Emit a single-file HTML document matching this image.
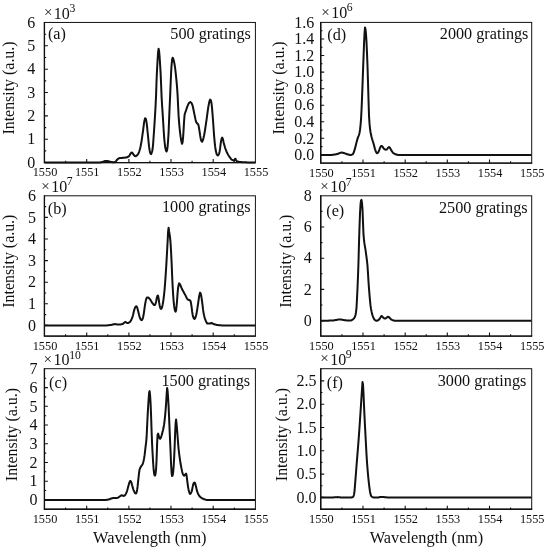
<!DOCTYPE html>
<html><head><meta charset="utf-8"><title>Spectra</title>
<style>
html,body{margin:0;padding:0;background:#fff;}
svg{display:block;}
text{font-family:"Liberation Serif","Times New Roman",serif;fill:#111;}
.yt{font-size:16px;text-anchor:end;}
.xt{font-size:13.5px;text-anchor:middle;}
.lb{font-size:16.2px;}
.ex{font-size:16px;}
.ax{font-size:16.35px;text-anchor:middle;}
.ay{font-size:15.9px;text-anchor:middle;}
</style></head><body>
<svg width="547" height="550" viewBox="0 0 547 550">
<rect width="547" height="550" fill="#fff"/>

<g id="panel-a">
<rect x="44.5" y="22.45" width="210.9" height="140.2" fill="none" stroke="#111" stroke-width="1.0"/>
<path d="M44.40 21.95V162.60H255.90" fill="none" stroke="#111" stroke-width="1.4" stroke-linejoin="miter"/>
<path d="M65.6 162.6v-1.8M86.7 162.6v-3.5M107.8 162.6v-1.8M128.9 162.6v-3.5M149.9 162.6v-1.8M171.0 162.6v-3.5M192.1 162.6v-1.8M213.2 162.6v-3.5M234.3 162.6v-1.8M44.5 150.9h1.7M44.5 139.2h3.4M44.5 127.6h1.7M44.5 115.9h3.4M44.5 104.2h1.7M44.5 92.5h3.4M44.5 80.9h1.7M44.5 69.2h3.4M44.5 57.5h1.7M44.5 45.8h3.4M44.5 34.2h1.7" stroke="#111" stroke-width="1.1" fill="none"/>
<text class="yt" x="35.3" y="167.8">0</text>
<text class="yt" x="35.3" y="144.4">1</text>
<text class="yt" x="35.3" y="121.1">2</text>
<text class="yt" x="35.3" y="97.7">3</text>
<text class="yt" x="35.3" y="74.4">4</text>
<text class="yt" x="35.3" y="51.0">5</text>
<text class="yt" x="35.3" y="27.7">6</text>
<text class="xt" x="45.0" y="176.2" textLength="24.6" lengthAdjust="spacingAndGlyphs">1550</text>
<text class="xt" x="87.2" y="176.2" textLength="24.6" lengthAdjust="spacingAndGlyphs">1551</text>
<text class="xt" x="129.4" y="176.2" textLength="24.6" lengthAdjust="spacingAndGlyphs">1552</text>
<text class="xt" x="171.6" y="176.2" textLength="24.6" lengthAdjust="spacingAndGlyphs">1553</text>
<text class="xt" x="213.8" y="176.2" textLength="24.6" lengthAdjust="spacingAndGlyphs">1554</text>
<text class="xt" x="256.0" y="176.2" textLength="24.6" lengthAdjust="spacingAndGlyphs">1555</text>
<text class="ex" x="43.9" y="18.5"><tspan font-size="15" dy="-1.1">×</tspan><tspan dx="1.5" dy="1.1">10</tspan><tspan font-size="11.7" dx="-0.3" dy="-6.4">3</tspan></text>
<text class="lb" x="47.9" y="38.5">(a)</text>
<text class="lb" text-anchor="end" x="250.8" y="38.5">500 gratings</text>
<text class="ay" transform="translate(14.3,88.0) rotate(-90)">Intensity (a.u.)</text>
<path d="M44.6,162.4 45.1,162.4 45.6,162.4 46.1,162.4 46.6,162.4 47.1,162.4 47.6,162.4 48.1,162.4 48.6,162.4 49.1,162.4 49.6,162.4 50.1,162.4 50.6,162.4 51.1,162.4 51.6,162.4 52.1,162.4 52.6,162.4 53.1,162.4 53.6,162.4 54.1,162.4 54.6,162.4 55.1,162.4 55.6,162.4 56.1,162.4 56.6,162.4 57.1,162.4 57.6,162.4 58.1,162.4 58.6,162.4 59.1,162.4 59.6,162.4 60.1,162.4 60.6,162.4 61.1,162.4 61.6,162.4 62.1,162.4 62.6,162.4 63.1,162.4 63.6,162.4 64.1,162.4 64.6,162.4 65.1,162.4 65.6,162.4 66.1,162.4 66.6,162.4 67.1,162.4 67.6,162.4 68.1,162.4 68.6,162.4 69.1,162.4 69.6,162.4 70.1,162.4 70.6,162.4 71.1,162.4 71.6,162.4 72.1,162.4 72.6,162.4 73.1,162.4 73.6,162.4 74.1,162.4 74.6,162.4 75.1,162.4 75.6,162.4 76.1,162.4 76.6,162.4 77.1,162.4 77.6,162.4 78.1,162.4 78.6,162.4 79.1,162.4 79.6,162.4 80.1,162.4 80.6,162.4 81.1,162.4 81.6,162.4 82.1,162.4 82.6,162.4 83.1,162.4 83.6,162.4 84.1,162.4 84.6,162.4 85.1,162.4 85.6,162.4 86.1,162.4 86.6,162.4 87.1,162.4 87.6,162.4 88.1,162.4 88.6,162.4 89.1,162.4 89.6,162.4 90.1,162.4 90.6,162.4 91.1,162.4 91.6,162.4 92.1,162.4 92.6,162.4 93.1,162.4 93.6,162.4 94.1,162.4 94.6,162.4 95.1,162.4 95.6,162.4 96.1,162.4 96.6,162.4 97.1,162.4 97.6,162.4 98.1,162.4 98.6,162.4 99.1,162.4 99.6,162.4 100.1,162.4 100.6,162.3 101.1,162.3 101.6,162.2 102.1,162.1 102.6,161.9 103.1,161.7 103.6,161.6 104.1,161.4 104.6,161.2 105.1,161.0 105.6,160.9 106.1,160.9 106.6,160.9 107.1,161.0 107.6,161.1 108.1,161.2 108.6,161.3 109.1,161.4 109.6,161.6 110.1,161.7 110.6,161.8 111.1,161.9 111.6,162.0 112.1,162.1 112.6,162.2 113.1,162.2 113.6,162.3 114.1,162.3 114.6,162.2 115.1,161.9 115.6,161.6 116.1,161.1 116.6,160.4 117.1,159.7 117.6,159.2 118.1,158.8 118.6,158.5 119.1,158.3 119.6,158.1 120.1,158.0 120.6,158.0 121.1,157.9 121.6,157.9 122.1,157.9 122.6,157.8 123.1,157.8 123.6,157.7 124.1,157.7 124.6,157.7 125.1,157.6 125.6,157.5 126.1,157.5 126.6,157.4 127.1,157.2 127.6,157.0 128.1,156.8 128.6,156.4 129.1,156.0 129.6,155.4 130.1,154.4 130.6,153.6 131.1,152.9 131.6,152.4 132.1,152.6 132.6,153.2 133.1,153.9 133.6,154.7 134.1,155.3 134.6,155.8 135.1,156.1 135.6,156.2 136.1,156.0 136.6,155.7 137.1,155.4 137.6,154.7 138.1,154.0 138.6,153.0 139.1,151.8 139.6,150.3 140.1,148.5 140.6,146.3 141.1,143.7 141.6,140.8 142.1,137.4 142.6,133.9 143.1,130.4 143.6,126.3 144.1,122.4 144.6,120.0 145.1,118.3 145.6,118.4 146.1,120.1 146.6,122.6 147.1,126.9 147.6,132.0 148.1,136.9 148.6,142.2 149.1,146.9 149.6,150.2 150.1,152.5 150.6,153.9 151.1,154.1 151.6,153.0 152.1,151.5 152.6,149.0 153.1,144.1 153.6,137.0 154.1,129.7 154.6,122.2 155.1,114.1 155.6,105.2 156.1,94.5 156.6,79.3 157.1,68.5 157.6,59.5 158.1,52.0 158.6,48.7 159.1,51.2 159.6,56.8 160.1,64.6 160.6,72.9 161.1,84.2 161.6,97.0 162.1,105.6 162.6,112.9 163.1,120.7 163.6,129.3 164.1,136.8 164.6,142.2 165.1,146.3 165.6,149.1 166.1,150.9 166.6,151.5 167.1,150.2 167.6,146.7 168.1,140.5 168.6,132.3 169.1,119.6 169.6,107.5 170.1,96.6 170.6,84.2 171.1,72.7 171.6,64.6 172.1,59.6 172.6,57.7 173.1,58.3 173.6,59.9 174.1,62.0 174.6,64.7 175.1,67.9 175.6,72.1 176.1,76.8 176.6,81.9 177.1,87.9 177.6,95.4 178.1,105.9 178.6,115.9 179.1,122.6 179.6,128.1 180.1,132.8 180.6,136.7 181.1,140.0 181.6,142.4 182.1,143.8 182.6,142.1 183.1,137.1 183.6,129.6 184.1,120.8 184.6,114.7 185.1,113.0 185.6,111.7 186.1,110.2 186.6,108.6 187.1,107.1 187.6,105.8 188.1,104.7 188.6,103.6 189.1,102.9 189.6,102.5 190.1,102.2 190.6,102.1 191.1,102.6 191.6,103.2 192.1,104.3 192.6,105.7 193.1,107.8 193.6,110.3 194.1,112.8 194.6,115.1 195.1,117.6 195.6,119.9 196.1,121.7 196.6,122.7 197.1,123.3 197.6,123.8 198.1,124.3 198.6,125.6 199.1,128.6 199.6,131.7 200.1,135.2 200.6,138.2 201.1,140.2 201.6,141.4 202.1,141.8 202.6,140.8 203.1,139.4 203.6,137.5 204.1,135.2 204.6,132.6 205.1,129.5 205.6,126.2 206.1,122.9 206.6,119.4 207.1,115.6 207.6,111.8 208.1,108.4 208.6,105.4 209.1,102.7 209.6,100.8 210.1,99.6 210.6,100.0 211.1,101.2 211.6,104.0 212.1,108.6 212.6,115.0 213.1,121.5 213.6,128.7 214.1,135.8 214.6,141.4 215.1,146.2 215.6,149.8 216.1,152.1 216.6,153.9 217.1,154.8 217.6,155.4 218.1,155.3 218.6,154.7 219.1,153.6 219.6,151.7 220.1,148.4 220.6,144.2 221.1,140.9 221.6,138.6 222.1,137.6 222.6,138.2 223.1,139.9 223.6,142.4 224.1,144.3 224.6,146.1 225.1,147.8 225.6,149.2 226.1,150.5 226.6,151.7 227.1,152.8 227.6,153.8 228.1,154.7 228.6,155.5 229.1,156.3 229.6,157.0 230.1,157.7 230.6,158.4 231.1,159.0 231.6,159.5 232.1,159.8 232.6,160.1 233.1,160.3 233.6,160.5 234.1,160.6 234.6,159.9 235.1,158.7 235.6,158.9 236.1,160.1 236.6,161.2 237.1,161.4 237.6,161.5 238.1,161.6 238.6,161.7 239.1,161.9 239.6,161.9 240.1,162.0 240.6,162.1 241.1,162.1 241.6,162.1 242.1,162.2 242.6,162.2 243.1,162.2 243.6,162.2 244.1,162.3 244.6,162.3 245.1,162.3 245.6,162.3 246.1,162.3 246.6,162.3 247.1,162.4 247.6,162.4 248.1,162.4 248.6,162.4 249.1,162.4 249.6,162.4 250.1,162.4 250.6,162.4 251.1,162.4 251.6,162.4 252.1,162.4 252.6,162.4 253.1,162.4 253.6,162.4 254.1,162.4 254.6,162.4 255.1,162.4" fill="none" stroke="#111" stroke-width="2" stroke-linejoin="round"/>
</g>
<g id="panel-b">
<rect x="44.5" y="195.8" width="210.9" height="140.3" fill="none" stroke="#111" stroke-width="1.0"/>
<path d="M44.40 195.30V336.10H255.90" fill="none" stroke="#111" stroke-width="1.4" stroke-linejoin="miter"/>
<path d="M65.6 336.1v-1.8M86.7 336.1v-3.5M107.8 336.1v-1.8M128.9 336.1v-3.5M149.9 336.1v-1.8M171.0 336.1v-3.5M192.1 336.1v-1.8M213.2 336.1v-3.5M234.3 336.1v-1.8M44.5 325.4h3.4M44.5 314.6h1.7M44.5 303.8h3.4M44.5 293.0h1.7M44.5 282.2h3.4M44.5 271.4h1.7M44.5 260.6h3.4M44.5 249.8h1.7M44.5 239.0h3.4M44.5 228.2h1.7M44.5 217.4h3.4M44.5 206.6h1.7" stroke="#111" stroke-width="1.1" fill="none"/>
<text class="yt" x="36.0" y="330.6">0</text>
<text class="yt" x="36.0" y="309.0">1</text>
<text class="yt" x="36.0" y="287.4">2</text>
<text class="yt" x="36.0" y="265.8">3</text>
<text class="yt" x="36.0" y="244.2">4</text>
<text class="yt" x="36.0" y="222.6">5</text>
<text class="yt" x="36.0" y="201.0">6</text>
<text class="xt" x="45.0" y="349.7" textLength="24.6" lengthAdjust="spacingAndGlyphs">1550</text>
<text class="xt" x="87.2" y="349.7" textLength="24.6" lengthAdjust="spacingAndGlyphs">1551</text>
<text class="xt" x="129.4" y="349.7" textLength="24.6" lengthAdjust="spacingAndGlyphs">1552</text>
<text class="xt" x="171.6" y="349.7" textLength="24.6" lengthAdjust="spacingAndGlyphs">1553</text>
<text class="xt" x="213.8" y="349.7" textLength="24.6" lengthAdjust="spacingAndGlyphs">1554</text>
<text class="xt" x="256.0" y="349.7" textLength="24.6" lengthAdjust="spacingAndGlyphs">1555</text>
<text class="ex" x="41.2" y="191.8"><tspan font-size="15" dy="-1.1">×</tspan><tspan dx="1.5" dy="1.1">10</tspan><tspan font-size="11.7" dx="-0.3" dy="-6.4">7</tspan></text>
<text class="lb" x="47.8" y="213.8">(b)</text>
<text class="lb" text-anchor="end" x="250.6" y="212.3">1000 gratings</text>
<text class="ay" transform="translate(14.3,261.2) rotate(-90)">Intensity (a.u.)</text>
<path d="M44.6,325.4 45.1,325.4 45.6,325.4 46.1,325.4 46.6,325.4 47.1,325.4 47.6,325.4 48.1,325.4 48.6,325.4 49.1,325.4 49.6,325.4 50.1,325.4 50.6,325.4 51.1,325.4 51.6,325.4 52.1,325.4 52.6,325.4 53.1,325.4 53.6,325.4 54.1,325.4 54.6,325.4 55.1,325.4 55.6,325.4 56.1,325.4 56.6,325.4 57.1,325.4 57.6,325.4 58.1,325.4 58.6,325.4 59.1,325.4 59.6,325.4 60.1,325.4 60.6,325.4 61.1,325.4 61.6,325.4 62.1,325.4 62.6,325.4 63.1,325.4 63.6,325.4 64.1,325.4 64.6,325.4 65.1,325.4 65.6,325.4 66.1,325.4 66.6,325.4 67.1,325.4 67.6,325.4 68.1,325.4 68.6,325.4 69.1,325.4 69.6,325.4 70.1,325.4 70.6,325.4 71.1,325.4 71.6,325.4 72.1,325.4 72.6,325.4 73.1,325.4 73.6,325.4 74.1,325.4 74.6,325.4 75.1,325.4 75.6,325.4 76.1,325.4 76.6,325.4 77.1,325.4 77.6,325.4 78.1,325.4 78.6,325.4 79.1,325.4 79.6,325.4 80.1,325.4 80.6,325.4 81.1,325.4 81.6,325.4 82.1,325.4 82.6,325.4 83.1,325.4 83.6,325.4 84.1,325.4 84.6,325.4 85.1,325.4 85.6,325.4 86.1,325.4 86.6,325.4 87.1,325.4 87.6,325.4 88.1,325.4 88.6,325.4 89.1,325.4 89.6,325.4 90.1,325.4 90.6,325.4 91.1,325.4 91.6,325.4 92.1,325.4 92.6,325.4 93.1,325.4 93.6,325.4 94.1,325.4 94.6,325.4 95.1,325.4 95.6,325.4 96.1,325.4 96.6,325.4 97.1,325.4 97.6,325.4 98.1,325.4 98.6,325.4 99.1,325.4 99.6,325.4 100.1,325.4 100.6,325.4 101.1,325.4 101.6,325.4 102.1,325.4 102.6,325.4 103.1,325.4 103.6,325.4 104.1,325.4 104.6,325.4 105.1,325.4 105.6,325.4 106.1,325.4 106.6,325.4 107.1,325.4 107.6,325.3 108.1,325.3 108.6,325.3 109.1,325.2 109.6,325.1 110.1,325.1 110.6,325.0 111.1,324.9 111.6,324.8 112.1,324.7 112.6,324.5 113.1,324.4 113.6,324.3 114.1,324.2 114.6,324.1 115.1,324.2 115.6,324.2 116.1,324.3 116.6,324.3 117.1,324.4 117.6,324.5 118.1,324.5 118.6,324.5 119.1,324.5 119.6,324.5 120.1,324.5 120.6,324.4 121.1,324.3 121.6,324.3 122.1,324.1 122.6,324.0 123.1,323.6 123.6,323.2 124.1,322.9 124.6,322.4 125.1,322.1 125.6,322.1 126.1,322.4 126.6,322.7 127.1,322.9 127.6,323.0 128.1,323.0 128.6,322.8 129.1,322.5 129.6,322.2 130.1,321.7 130.6,321.1 131.1,320.3 131.6,319.2 132.1,318.0 132.6,316.6 133.1,314.7 133.6,312.5 134.1,310.4 134.6,308.8 135.1,307.5 135.6,306.7 136.1,306.3 136.6,306.5 137.1,307.3 137.6,309.1 138.1,311.1 138.6,313.1 139.1,315.1 139.6,316.8 140.1,318.2 140.6,319.2 141.1,319.9 141.6,320.2 142.1,319.9 142.6,318.9 143.1,317.2 143.6,314.8 144.1,311.4 144.6,307.6 145.1,304.4 145.6,301.6 146.1,299.4 146.6,298.1 147.1,297.4 147.6,297.4 148.1,297.5 148.6,297.7 149.1,298.2 149.6,298.8 150.1,299.4 150.6,300.1 151.1,301.0 151.6,301.8 152.1,302.6 152.6,303.3 153.1,304.0 153.6,304.5 154.1,305.0 154.6,305.1 155.1,304.7 155.6,303.6 156.1,301.7 156.6,299.0 157.1,296.8 157.6,295.5 158.1,295.9 158.6,298.4 159.1,302.1 159.6,305.2 160.1,307.3 160.6,308.7 161.1,309.0 161.6,308.3 162.1,307.1 162.6,304.9 163.1,302.1 163.6,298.6 164.1,294.4 164.6,289.4 165.1,283.2 165.6,276.1 166.1,268.4 166.6,259.9 167.1,251.0 167.6,241.7 168.1,231.6 168.6,227.7 169.1,231.4 169.6,234.5 170.1,238.0 170.6,243.6 171.1,252.3 171.6,262.4 172.1,274.8 172.6,285.8 173.1,294.0 173.6,300.9 174.1,305.7 174.6,309.1 175.1,311.0 175.6,311.7 176.1,310.1 176.6,306.0 177.1,300.2 177.6,292.9 178.1,287.7 178.6,285.0 179.1,283.4 179.6,283.7 180.1,284.5 180.6,285.6 181.1,287.0 181.6,288.2 182.1,289.3 182.6,290.2 183.1,291.1 183.6,292.0 184.1,292.9 184.6,293.8 185.1,294.6 185.6,295.6 186.1,296.7 186.6,297.7 187.1,298.6 187.6,299.3 188.1,299.6 188.6,299.9 189.1,300.0 189.6,300.2 190.1,300.4 190.6,301.2 191.1,303.8 191.6,307.0 192.1,311.2 192.6,314.5 193.1,316.7 193.6,318.0 194.1,318.8 194.6,318.9 195.1,318.1 195.6,317.0 196.1,315.3 196.6,313.1 197.1,310.2 197.6,306.9 198.1,303.5 198.6,300.1 199.1,296.7 199.6,294.3 200.1,292.6 200.6,293.3 201.1,295.2 201.6,298.2 202.1,301.6 202.6,305.7 203.1,309.9 203.6,313.1 204.1,315.5 204.6,317.5 205.1,319.2 205.6,320.4 206.1,321.5 206.6,322.6 207.1,323.3 207.6,323.6 208.1,323.6 208.6,323.6 209.1,323.6 209.6,323.6 210.1,323.6 210.6,323.2 211.1,323.0 211.6,323.1 212.1,323.3 212.6,323.5 213.1,323.8 213.6,324.0 214.1,324.2 214.6,324.4 215.1,324.5 215.6,324.6 216.1,324.7 216.6,324.9 217.1,325.0 217.6,325.0 218.1,325.1 218.6,325.2 219.1,325.2 219.6,325.3 220.1,325.3 220.6,325.3 221.1,325.3 221.6,325.4 222.1,325.4 222.6,325.4 223.1,325.4 223.6,325.4 224.1,325.4 224.6,325.4 225.1,325.4 225.6,325.4 226.1,325.4 226.6,325.4 227.1,325.4 227.6,325.4 228.1,325.4 228.6,325.4 229.1,325.4 229.6,325.4 230.1,325.4 230.6,325.4 231.1,325.4 231.6,325.4 232.1,325.4 232.6,325.4 233.1,325.4 233.6,325.4 234.1,325.4 234.6,325.4 235.1,325.4 235.6,325.4 236.1,325.4 236.6,325.4 237.1,325.4 237.6,325.4 238.1,325.4 238.6,325.4 239.1,325.4 239.6,325.4 240.1,325.4 240.6,325.4 241.1,325.4 241.6,325.4 242.1,325.4 242.6,325.4 243.1,325.4 243.6,325.4 244.1,325.4 244.6,325.4 245.1,325.4 245.6,325.4 246.1,325.4 246.6,325.4 247.1,325.4 247.6,325.4 248.1,325.4 248.6,325.4 249.1,325.4 249.6,325.4 250.1,325.4 250.6,325.4 251.1,325.4 251.6,325.4 252.1,325.4 252.6,325.4 253.1,325.4 253.6,325.4 254.1,325.4 254.6,325.4 255.1,325.4" fill="none" stroke="#111" stroke-width="2" stroke-linejoin="round"/>
</g>
<g id="panel-c">
<rect x="44.5" y="368.7" width="210.9" height="140.5" fill="none" stroke="#111" stroke-width="1.0"/>
<path d="M44.40 368.20V509.20H255.90" fill="none" stroke="#111" stroke-width="1.4" stroke-linejoin="miter"/>
<path d="M65.6 509.2v-1.8M86.7 509.2v-3.5M107.8 509.2v-1.8M128.9 509.2v-3.5M149.9 509.2v-1.8M171.0 509.2v-3.5M192.1 509.2v-1.8M213.2 509.2v-3.5M234.3 509.2v-1.8M44.5 499.9h3.4M44.5 490.5h1.7M44.5 481.2h3.4M44.5 471.8h1.7M44.5 462.5h3.4M44.5 453.1h1.7M44.5 443.7h3.4M44.5 434.4h1.7M44.5 425.0h3.4M44.5 415.7h1.7M44.5 406.3h3.4M44.5 396.9h1.7M44.5 387.6h3.4M44.5 378.2h1.7" stroke="#111" stroke-width="1.1" fill="none"/>
<text class="yt" x="37.6" y="505.1">0</text>
<text class="yt" x="37.6" y="486.4">1</text>
<text class="yt" x="37.6" y="467.7">2</text>
<text class="yt" x="37.6" y="448.9">3</text>
<text class="yt" x="37.6" y="430.2">4</text>
<text class="yt" x="37.6" y="411.5">5</text>
<text class="yt" x="37.6" y="392.8">6</text>
<text class="yt" x="37.6" y="374.1">7</text>
<text class="xt" x="45.0" y="522.8" textLength="24.6" lengthAdjust="spacingAndGlyphs">1550</text>
<text class="xt" x="87.2" y="522.8" textLength="24.6" lengthAdjust="spacingAndGlyphs">1551</text>
<text class="xt" x="129.4" y="522.8" textLength="24.6" lengthAdjust="spacingAndGlyphs">1552</text>
<text class="xt" x="171.6" y="522.8" textLength="24.6" lengthAdjust="spacingAndGlyphs">1553</text>
<text class="xt" x="213.8" y="522.8" textLength="24.6" lengthAdjust="spacingAndGlyphs">1554</text>
<text class="xt" x="256.0" y="522.8" textLength="24.6" lengthAdjust="spacingAndGlyphs">1555</text>
<text class="ex" x="43.5" y="365.1"><tspan font-size="15" dy="-1.1">×</tspan><tspan dx="1.5" dy="1.1">10</tspan><tspan font-size="11.7" dx="-0.3" dy="-6.4">10</tspan></text>
<text class="lb" x="49.1" y="387.5">(c)</text>
<text class="lb" text-anchor="end" x="250.1" y="385.6">1500 gratings</text>
<text class="ay" transform="translate(16.6,434.6) rotate(-90)">Intensity (a.u.)</text>
<path d="M44.6,499.9 45.1,499.9 45.6,499.9 46.1,499.9 46.6,499.9 47.1,499.9 47.6,499.9 48.1,499.9 48.6,499.9 49.1,499.9 49.6,499.9 50.1,499.9 50.6,499.9 51.1,499.9 51.6,499.9 52.1,499.9 52.6,499.9 53.1,499.9 53.6,499.9 54.1,499.9 54.6,499.9 55.1,499.9 55.6,499.9 56.1,499.9 56.6,499.9 57.1,499.9 57.6,499.9 58.1,499.9 58.6,499.9 59.1,499.9 59.6,499.9 60.1,499.9 60.6,499.9 61.1,499.9 61.6,499.9 62.1,499.9 62.6,499.9 63.1,499.9 63.6,499.9 64.1,499.9 64.6,499.9 65.1,499.9 65.6,499.9 66.1,499.9 66.6,499.9 67.1,499.9 67.6,499.9 68.1,499.9 68.6,499.9 69.1,499.9 69.6,499.9 70.1,499.9 70.6,499.9 71.1,499.9 71.6,499.9 72.1,499.9 72.6,499.9 73.1,499.9 73.6,499.9 74.1,499.9 74.6,499.9 75.1,499.9 75.6,499.9 76.1,499.9 76.6,499.9 77.1,499.9 77.6,499.9 78.1,499.9 78.6,499.9 79.1,499.9 79.6,499.9 80.1,499.9 80.6,499.9 81.1,499.9 81.6,499.9 82.1,499.9 82.6,499.9 83.1,499.9 83.6,499.9 84.1,499.9 84.6,499.9 85.1,499.9 85.6,499.9 86.1,499.9 86.6,499.9 87.1,499.9 87.6,499.9 88.1,499.9 88.6,499.9 89.1,499.9 89.6,499.9 90.1,499.9 90.6,499.9 91.1,499.9 91.6,499.9 92.1,499.9 92.6,499.9 93.1,499.9 93.6,499.9 94.1,499.9 94.6,499.9 95.1,499.9 95.6,499.9 96.1,499.9 96.6,499.9 97.1,499.9 97.6,499.9 98.1,499.9 98.6,499.9 99.1,499.9 99.6,499.9 100.1,499.9 100.6,499.9 101.1,499.9 101.6,499.9 102.1,499.9 102.6,499.9 103.1,499.9 103.6,499.9 104.1,499.9 104.6,499.9 105.1,499.9 105.6,499.9 106.1,499.9 106.6,499.8 107.1,499.8 107.6,499.7 108.1,499.6 108.6,499.6 109.1,499.4 109.6,499.2 110.1,499.0 110.6,498.7 111.1,498.5 111.6,498.4 112.1,498.3 112.6,498.2 113.1,498.1 113.6,498.1 114.1,498.0 114.6,498.0 115.1,498.0 115.6,498.0 116.1,497.9 116.6,497.9 117.1,497.9 117.6,497.8 118.1,497.6 118.6,497.3 119.1,496.9 119.6,496.5 120.1,496.2 120.6,495.9 121.1,495.5 121.6,495.3 122.1,495.4 122.6,495.5 123.1,495.8 123.6,495.9 124.1,495.7 124.6,495.5 125.1,495.0 125.6,494.4 126.1,493.4 126.6,492.2 127.1,490.8 127.6,489.0 128.1,487.1 128.6,485.2 129.1,483.4 129.6,482.0 130.1,481.1 130.6,481.0 131.1,481.8 131.6,483.2 132.1,485.2 132.6,486.9 133.1,488.6 133.6,490.1 134.1,491.4 134.6,492.4 135.1,493.1 135.6,493.4 136.1,493.4 136.6,492.3 137.1,490.0 137.6,486.4 138.1,481.6 138.6,477.0 139.1,472.7 139.6,469.5 140.1,468.1 140.6,467.2 141.1,466.4 141.6,465.7 142.1,465.1 142.6,464.2 143.1,462.8 143.6,460.8 144.1,458.2 144.6,455.2 145.1,450.9 145.6,446.3 146.1,442.6 146.6,437.2 147.1,426.8 147.6,416.1 148.1,407.4 148.6,399.5 149.1,392.5 149.6,391.1 150.1,395.4 150.6,403.6 151.1,416.1 151.6,431.5 152.1,444.4 152.6,453.7 153.1,462.3 153.6,469.2 154.1,473.3 154.6,475.5 155.1,475.4 155.6,473.4 156.1,469.0 156.6,458.8 157.1,443.8 157.6,434.7 158.1,433.6 158.6,435.1 159.1,437.3 159.6,438.4 160.1,438.8 160.6,438.1 161.1,437.0 161.6,435.5 162.1,433.6 162.6,431.7 163.1,429.7 163.6,427.3 164.1,424.4 164.6,420.6 165.1,415.8 165.6,410.2 166.1,403.6 166.6,394.9 167.1,388.0 167.6,390.8 168.1,397.5 168.6,406.5 169.1,417.7 169.6,429.9 170.1,441.1 170.6,452.3 171.1,464.8 171.6,473.0 172.1,476.0 172.6,475.7 173.1,472.8 173.6,467.2 174.1,458.6 174.6,447.6 175.1,434.0 175.6,423.4 176.1,419.5 176.6,424.0 177.1,430.2 177.6,436.5 178.1,443.1 178.6,449.0 179.1,453.4 179.6,457.1 180.1,460.6 180.6,463.8 181.1,466.5 181.6,469.1 182.1,471.4 182.6,473.3 183.1,474.5 183.6,475.3 184.1,475.7 184.6,475.3 185.1,474.7 185.6,474.1 186.1,473.6 186.6,475.5 187.1,479.8 187.6,483.5 188.1,487.1 188.6,489.8 189.1,491.8 189.6,493.1 190.1,493.9 190.6,493.6 191.1,492.7 191.6,491.6 192.1,489.9 192.6,487.1 193.1,484.9 193.6,483.4 194.1,482.7 194.6,482.6 195.1,483.4 195.6,485.1 196.1,487.1 196.6,489.2 197.1,491.2 197.6,492.6 198.1,493.8 198.6,494.8 199.1,495.7 199.6,496.3 200.1,496.8 200.6,497.3 201.1,497.7 201.6,498.0 202.1,498.3 202.6,498.5 203.1,498.7 203.6,499.0 204.1,499.2 204.6,499.4 205.1,499.6 205.6,499.7 206.1,499.8 206.6,499.9 207.1,499.9 207.6,499.9 208.1,499.9 208.6,499.9 209.1,499.9 209.6,499.9 210.1,499.9 210.6,499.9 211.1,499.9 211.6,499.9 212.1,499.9 212.6,499.9 213.1,499.9 213.6,499.9 214.1,499.9 214.6,499.9 215.1,499.9 215.6,499.9 216.1,499.9 216.6,499.9 217.1,499.9 217.6,499.9 218.1,499.9 218.6,499.9 219.1,499.9 219.6,499.9 220.1,499.9 220.6,499.9 221.1,499.9 221.6,499.9 222.1,499.9 222.6,499.9 223.1,499.9 223.6,499.9 224.1,499.9 224.6,499.9 225.1,499.9 225.6,499.9 226.1,499.9 226.6,499.9 227.1,499.9 227.6,499.9 228.1,499.9 228.6,499.9 229.1,499.9 229.6,499.9 230.1,499.9 230.6,499.9 231.1,499.9 231.6,499.9 232.1,499.9 232.6,499.9 233.1,499.9 233.6,499.9 234.1,499.9 234.6,499.9 235.1,499.9 235.6,499.9 236.1,499.9 236.6,499.9 237.1,499.9 237.6,499.9 238.1,499.9 238.6,499.9 239.1,499.9 239.6,499.9 240.1,499.9 240.6,499.9 241.1,499.9 241.6,499.9 242.1,499.9 242.6,499.9 243.1,499.9 243.6,499.9 244.1,499.9 244.6,499.9 245.1,499.9 245.6,499.9 246.1,499.9 246.6,499.9 247.1,499.9 247.6,499.9 248.1,499.9 248.6,499.9 249.1,499.9 249.6,499.9 250.1,499.9 250.6,499.9 251.1,499.9 251.6,499.9 252.1,499.9 252.6,499.9 253.1,499.9 253.6,499.9 254.1,499.9 254.6,499.9 255.1,499.9" fill="none" stroke="#111" stroke-width="2" stroke-linejoin="round"/>
</g>
<g id="panel-d">
<rect x="320.8" y="22.4" width="210.9" height="140.7" fill="none" stroke="#111" stroke-width="1.0"/>
<path d="M320.70 21.90V163.10H532.20" fill="none" stroke="#111" stroke-width="1.4" stroke-linejoin="miter"/>
<path d="M341.9 163.1v-1.8M363.0 163.1v-3.5M384.1 163.1v-1.8M405.2 163.1v-3.5M426.2 163.1v-1.8M447.3 163.1v-3.5M468.4 163.1v-1.8M489.5 163.1v-3.5M510.6 163.1v-1.8M320.8 154.9h3.4M320.8 146.6h1.7M320.8 138.3h3.4M320.8 130.1h1.7M320.8 121.8h3.4M320.8 113.5h1.7M320.8 105.2h3.4M320.8 96.9h1.7M320.8 88.7h3.4M320.8 80.4h1.7M320.8 72.1h3.4M320.8 63.8h1.7M320.8 55.5h3.4M320.8 47.3h1.7M320.8 39.0h3.4M320.8 30.7h1.7" stroke="#111" stroke-width="1.1" fill="none"/>
<text class="yt" x="314.3" y="160.1">0.0</text>
<text class="yt" x="314.3" y="143.5">0.2</text>
<text class="yt" x="314.3" y="127.0">0.4</text>
<text class="yt" x="314.3" y="110.4">0.6</text>
<text class="yt" x="314.3" y="93.9">0.8</text>
<text class="yt" x="314.3" y="77.3">1.0</text>
<text class="yt" x="314.3" y="60.7">1.2</text>
<text class="yt" x="314.3" y="44.2">1.4</text>
<text class="yt" x="314.3" y="27.6">1.6</text>
<text class="xt" x="321.4" y="176.7" textLength="24.6" lengthAdjust="spacingAndGlyphs">1550</text>
<text class="xt" x="363.5" y="176.7" textLength="24.6" lengthAdjust="spacingAndGlyphs">1551</text>
<text class="xt" x="405.7" y="176.7" textLength="24.6" lengthAdjust="spacingAndGlyphs">1552</text>
<text class="xt" x="447.9" y="176.7" textLength="24.6" lengthAdjust="spacingAndGlyphs">1553</text>
<text class="xt" x="490.1" y="176.7" textLength="24.6" lengthAdjust="spacingAndGlyphs">1554</text>
<text class="xt" x="532.2" y="176.7" textLength="24.6" lengthAdjust="spacingAndGlyphs">1555</text>
<text class="ex" x="321.2" y="17.8"><tspan font-size="15" dy="-1.1">×</tspan><tspan dx="1.5" dy="1.1">10</tspan><tspan font-size="11.7" dx="-0.3" dy="-6.4">6</tspan></text>
<text class="lb" x="327.3" y="40.0">(d)</text>
<text class="lb" text-anchor="end" x="528.4" y="38.7">2000 gratings</text>
<text class="ay" transform="translate(283.5,87.9) rotate(-90)">Intensity (a.u.)</text>
<path d="M321.0,154.9 321.5,154.9 322.0,154.9 322.5,154.9 323.0,154.9 323.5,154.9 324.0,154.9 324.5,154.9 325.0,154.9 325.5,154.9 326.0,154.9 326.5,154.9 327.0,154.9 327.5,154.9 328.0,154.9 328.5,154.9 329.0,154.9 329.5,154.9 330.0,154.9 330.5,154.9 331.0,154.9 331.5,154.9 332.0,154.9 332.5,154.8 333.0,154.8 333.5,154.7 334.0,154.6 334.5,154.6 335.0,154.5 335.5,154.4 336.0,154.3 336.5,154.2 337.0,154.1 337.5,154.0 338.0,153.8 338.5,153.6 339.0,153.3 339.5,153.1 340.0,152.9 340.5,152.8 341.0,152.7 341.5,152.6 342.0,152.6 342.5,152.7 343.0,152.8 343.5,152.9 344.0,153.1 344.5,153.2 345.0,153.4 345.5,153.6 346.0,153.8 346.5,154.0 347.0,154.2 347.5,154.3 348.0,154.5 348.5,154.6 349.0,154.7 349.5,154.8 350.0,154.9 350.5,154.9 351.0,154.9 351.5,154.8 352.0,154.6 352.5,154.4 353.0,154.0 353.5,153.1 354.0,151.7 354.5,150.1 355.0,148.4 355.5,146.4 356.0,144.4 356.5,142.5 357.0,140.6 357.5,138.9 358.0,137.3 358.5,136.1 359.0,134.8 359.5,133.0 360.0,129.9 360.5,125.6 361.0,119.7 361.5,110.3 362.0,98.6 362.5,85.1 363.0,71.1 363.5,57.8 364.0,44.7 364.5,34.0 365.0,27.4 365.5,29.2 366.0,34.0 366.5,42.0 367.0,53.1 367.5,65.8 368.0,82.2 368.5,99.5 369.0,115.6 369.5,123.4 370.0,128.5 370.5,132.0 371.0,134.6 371.5,136.7 372.0,138.6 372.5,140.3 373.0,141.8 373.5,143.4 374.0,145.2 374.5,147.2 375.0,149.2 375.5,150.7 376.0,152.0 376.5,152.7 377.0,153.2 377.5,153.1 378.0,152.6 378.5,151.9 379.0,150.6 379.5,149.3 380.0,147.9 380.5,146.8 381.0,146.2 381.5,145.9 382.0,146.2 382.5,146.7 383.0,147.4 383.5,148.1 384.0,148.7 384.5,149.2 385.0,149.5 385.5,149.6 386.0,149.7 386.5,149.6 387.0,149.2 387.5,148.6 388.0,147.9 388.5,147.4 389.0,147.1 389.5,147.3 390.0,147.9 390.5,148.8 391.0,149.8 391.5,150.7 392.0,151.4 392.5,152.1 393.0,152.7 393.5,153.2 394.0,153.5 394.5,153.8 395.0,154.0 395.5,154.2 396.0,154.4 396.5,154.5 397.0,154.7 397.5,154.8 398.0,154.9 398.5,154.9 399.0,154.9 399.5,154.9 400.0,154.9 400.5,154.9 401.0,154.9 401.5,154.9 402.0,154.9 402.5,154.9 403.0,154.9 403.5,154.9 404.0,154.9 404.5,154.9 405.0,154.9 405.5,154.9 406.0,154.9 406.5,154.9 407.0,154.9 407.5,154.9 408.0,154.9 408.5,154.9 409.0,154.9 409.5,154.9 410.0,154.9 410.5,154.9 411.0,154.9 411.5,154.9 412.0,154.9 412.5,154.9 413.0,154.9 413.5,154.9 414.0,154.9 414.5,154.9 415.0,154.9 415.5,154.9 416.0,154.9 416.5,154.9 417.0,154.9 417.5,154.9 418.0,154.9 418.5,154.9 419.0,154.9 419.5,154.9 420.0,154.9 420.5,154.9 421.0,154.9 421.5,154.9 422.0,154.9 422.5,154.9 423.0,154.9 423.5,154.9 424.0,154.9 424.5,154.9 425.0,154.9 425.5,154.9 426.0,154.9 426.5,154.9 427.0,154.9 427.5,154.9 428.0,154.9 428.5,154.9 429.0,154.9 429.5,154.9 430.0,154.9 430.5,154.9 431.0,154.9 431.5,154.9 432.0,154.9 432.5,154.9 433.0,154.9 433.5,154.9 434.0,154.9 434.5,154.9 435.0,154.9 435.5,154.9 436.0,154.9 436.5,154.9 437.0,154.9 437.5,154.9 438.0,154.9 438.5,154.9 439.0,154.9 439.5,154.9 440.0,154.9 440.5,154.9 441.0,154.9 441.5,154.9 442.0,154.9 442.5,154.9 443.0,154.9 443.5,154.9 444.0,154.9 444.5,154.9 445.0,154.9 445.5,154.9 446.0,154.9 446.5,154.9 447.0,154.9 447.5,154.9 448.0,154.9 448.5,154.9 449.0,154.9 449.5,154.9 450.0,154.9 450.5,154.9 451.0,154.9 451.5,154.9 452.0,154.9 452.5,154.9 453.0,154.9 453.5,154.9 454.0,154.9 454.5,154.9 455.0,154.9 455.5,154.9 456.0,154.9 456.5,154.9 457.0,154.9 457.5,154.9 458.0,154.9 458.5,154.9 459.0,154.9 459.5,154.9 460.0,154.9 460.5,154.9 461.0,154.9 461.5,154.9 462.0,154.9 462.5,154.9 463.0,154.9 463.5,154.9 464.0,154.9 464.5,154.9 465.0,154.9 465.5,154.9 466.0,154.9 466.5,154.9 467.0,154.9 467.5,154.9 468.0,154.9 468.5,154.9 469.0,154.9 469.5,154.9 470.0,154.9 470.5,154.9 471.0,154.9 471.5,154.9 472.0,154.9 472.5,154.9 473.0,154.9 473.5,154.9 474.0,154.9 474.5,154.9 475.0,154.9 475.5,154.9 476.0,154.9 476.5,154.9 477.0,154.9 477.5,154.9 478.0,154.9 478.5,154.9 479.0,154.9 479.5,154.9 480.0,154.9 480.5,154.9 481.0,154.9 481.5,154.9 482.0,154.9 482.5,154.9 483.0,154.9 483.5,154.9 484.0,154.9 484.5,154.9 485.0,154.9 485.5,154.9 486.0,154.9 486.5,154.9 487.0,154.9 487.5,154.9 488.0,154.9 488.5,154.9 489.0,154.9 489.5,154.9 490.0,154.9 490.5,154.9 491.0,154.9 491.5,154.9 492.0,154.9 492.5,154.9 493.0,154.9 493.5,154.9 494.0,154.9 494.5,154.9 495.0,154.9 495.5,154.9 496.0,154.9 496.5,154.9 497.0,154.9 497.5,154.9 498.0,154.9 498.5,154.9 499.0,154.9 499.5,154.9 500.0,154.9 500.5,154.9 501.0,154.9 501.5,154.9 502.0,154.9 502.5,154.9 503.0,154.9 503.5,154.9 504.0,154.9 504.5,154.9 505.0,154.9 505.5,154.9 506.0,154.9 506.5,154.9 507.0,154.9 507.5,154.9 508.0,154.9 508.5,154.9 509.0,154.9 509.5,154.9 510.0,154.9 510.5,154.9 511.0,154.9 511.5,154.9 512.0,154.9 512.5,154.9 513.0,154.9 513.5,154.9 514.0,154.9 514.5,154.9 515.0,154.9 515.5,154.9 516.0,154.9 516.5,154.9 517.0,154.9 517.5,154.9 518.0,154.9 518.5,154.9 519.0,154.9 519.5,154.9 520.0,154.9 520.5,154.9 521.0,154.9 521.5,154.9 522.0,154.9 522.5,154.9 523.0,154.9 523.5,154.9 524.0,154.9 524.5,154.9 525.0,154.9 525.5,154.9 526.0,154.9 526.5,154.9 527.0,154.9 527.5,154.9 528.0,154.9 528.5,154.9 529.0,154.9 529.5,154.9 530.0,154.9 530.5,154.9 531.0,154.9 531.5,154.9" fill="none" stroke="#111" stroke-width="2" stroke-linejoin="round"/>
</g>
<g id="panel-e">
<rect x="320.8" y="195.8" width="210.9" height="140.3" fill="none" stroke="#111" stroke-width="1.0"/>
<path d="M320.70 195.30V336.10H532.20" fill="none" stroke="#111" stroke-width="1.4" stroke-linejoin="miter"/>
<path d="M341.9 336.1v-1.8M363.0 336.1v-3.5M384.1 336.1v-1.8M405.2 336.1v-3.5M426.2 336.1v-1.8M447.3 336.1v-3.5M468.4 336.1v-1.8M489.5 336.1v-3.5M510.6 336.1v-1.8M320.8 320.6h3.4M320.8 305.0h1.7M320.8 289.4h3.4M320.8 273.8h1.7M320.8 258.2h3.4M320.8 242.6h1.7M320.8 227.0h3.4M320.8 211.4h1.7" stroke="#111" stroke-width="1.1" fill="none"/>
<text class="yt" x="311.7" y="325.8">0</text>
<text class="yt" x="311.7" y="294.6">2</text>
<text class="yt" x="311.7" y="263.4">4</text>
<text class="yt" x="311.7" y="232.2">6</text>
<text class="yt" x="311.7" y="201.0">8</text>
<text class="xt" x="321.4" y="349.7" textLength="24.6" lengthAdjust="spacingAndGlyphs">1550</text>
<text class="xt" x="363.5" y="349.7" textLength="24.6" lengthAdjust="spacingAndGlyphs">1551</text>
<text class="xt" x="405.7" y="349.7" textLength="24.6" lengthAdjust="spacingAndGlyphs">1552</text>
<text class="xt" x="447.9" y="349.7" textLength="24.6" lengthAdjust="spacingAndGlyphs">1553</text>
<text class="xt" x="490.1" y="349.7" textLength="24.6" lengthAdjust="spacingAndGlyphs">1554</text>
<text class="xt" x="532.2" y="349.7" textLength="24.6" lengthAdjust="spacingAndGlyphs">1555</text>
<text class="ex" x="320.2" y="192.4"><tspan font-size="15" dy="-1.1">×</tspan><tspan dx="1.5" dy="1.1">10</tspan><tspan font-size="11.7" dx="-0.3" dy="-6.4">7</tspan></text>
<text class="lb" x="326.3" y="215.8">(e)</text>
<text class="lb" text-anchor="end" x="527.6" y="212.6">2500 gratings</text>
<text class="ay" transform="translate(290.5,261.2) rotate(-90)">Intensity (a.u.)</text>
<path d="M321.0,320.8 321.5,320.8 322.0,320.8 322.5,320.8 323.0,320.8 323.5,320.8 324.0,320.8 324.5,320.8 325.0,320.8 325.5,320.7 326.0,320.7 326.5,320.7 327.0,320.7 327.5,320.7 328.0,320.7 328.5,320.7 329.0,320.6 329.5,320.6 330.0,320.6 330.5,320.6 331.0,320.5 331.5,320.5 332.0,320.5 332.5,320.5 333.0,320.4 333.5,320.4 334.0,320.3 334.5,320.2 335.0,320.2 335.5,320.1 336.0,320.0 336.5,319.9 337.0,319.8 337.5,319.7 338.0,319.6 338.5,319.5 339.0,319.4 339.5,319.4 340.0,319.4 340.5,319.5 341.0,319.5 341.5,319.6 342.0,319.7 342.5,319.8 343.0,319.9 343.5,320.0 344.0,320.1 344.5,320.2 345.0,320.2 345.5,320.3 346.0,320.3 346.5,320.4 347.0,320.4 347.5,320.4 348.0,320.4 348.5,320.5 349.0,320.5 349.5,320.5 350.0,320.5 350.5,320.5 351.0,320.4 351.5,320.3 352.0,320.0 352.5,319.7 353.0,319.4 353.5,318.9 354.0,318.4 354.5,317.5 355.0,316.5 355.5,315.0 356.0,312.2 356.5,307.8 357.0,298.8 357.5,288.1 358.0,276.0 358.5,261.7 359.0,242.8 359.5,227.1 360.0,213.5 360.5,204.7 361.0,200.4 361.5,199.9 362.0,203.0 362.5,209.3 363.0,222.5 363.5,234.7 364.0,240.1 364.5,243.9 365.0,246.9 365.5,249.8 366.0,253.4 366.5,257.1 367.0,261.0 367.5,265.9 368.0,273.5 368.5,281.7 369.0,288.6 369.5,294.8 370.0,300.6 370.5,305.4 371.0,308.7 371.5,311.4 372.0,313.6 372.5,315.3 373.0,316.7 373.5,318.0 374.0,318.9 374.5,319.6 375.0,320.1 375.5,320.4 376.0,320.7 376.5,320.8 377.0,320.7 377.5,320.5 378.0,320.3 378.5,320.0 379.0,319.5 379.5,319.0 380.0,318.2 380.5,317.3 381.0,316.6 381.5,316.0 382.0,316.2 382.5,316.7 383.0,317.4 383.5,317.9 384.0,318.2 384.5,318.4 385.0,318.5 385.5,318.4 386.0,318.2 386.5,317.8 387.0,317.3 387.5,317.0 388.0,316.8 388.5,316.9 389.0,317.2 389.5,317.7 390.0,318.2 390.5,318.8 391.0,319.3 391.5,319.6 392.0,319.9 392.5,320.1 393.0,320.3 393.5,320.5 394.0,320.6 394.5,320.7 395.0,320.7 395.5,320.8 396.0,320.8 396.5,320.8 397.0,320.8 397.5,320.8 398.0,320.8 398.5,320.8 399.0,320.8 399.5,320.8 400.0,320.8 400.5,320.8 401.0,320.8 401.5,320.8 402.0,320.8 402.5,320.8 403.0,320.8 403.5,320.8 404.0,320.8 404.5,320.8 405.0,320.8 405.5,320.8 406.0,320.8 406.5,320.8 407.0,320.8 407.5,320.8 408.0,320.8 408.5,320.8 409.0,320.8 409.5,320.8 410.0,320.8 410.5,320.8 411.0,320.8 411.5,320.8 412.0,320.8 412.5,320.8 413.0,320.8 413.5,320.8 414.0,320.8 414.5,320.8 415.0,320.8 415.5,320.8 416.0,320.8 416.5,320.8 417.0,320.8 417.5,320.8 418.0,320.8 418.5,320.8 419.0,320.8 419.5,320.8 420.0,320.8 420.5,320.8 421.0,320.8 421.5,320.8 422.0,320.8 422.5,320.8 423.0,320.8 423.5,320.8 424.0,320.8 424.5,320.8 425.0,320.8 425.5,320.8 426.0,320.8 426.5,320.8 427.0,320.8 427.5,320.8 428.0,320.8 428.5,320.8 429.0,320.8 429.5,320.8 430.0,320.8 430.5,320.8 431.0,320.8 431.5,320.8 432.0,320.8 432.5,320.8 433.0,320.8 433.5,320.8 434.0,320.8 434.5,320.8 435.0,320.8 435.5,320.8 436.0,320.8 436.5,320.8 437.0,320.8 437.5,320.8 438.0,320.8 438.5,320.8 439.0,320.8 439.5,320.8 440.0,320.8 440.5,320.8 441.0,320.8 441.5,320.8 442.0,320.8 442.5,320.8 443.0,320.8 443.5,320.8 444.0,320.8 444.5,320.8 445.0,320.8 445.5,320.8 446.0,320.8 446.5,320.8 447.0,320.8 447.5,320.8 448.0,320.8 448.5,320.8 449.0,320.8 449.5,320.8 450.0,320.8 450.5,320.8 451.0,320.8 451.5,320.8 452.0,320.8 452.5,320.8 453.0,320.8 453.5,320.8 454.0,320.8 454.5,320.8 455.0,320.8 455.5,320.8 456.0,320.8 456.5,320.8 457.0,320.8 457.5,320.8 458.0,320.8 458.5,320.8 459.0,320.8 459.5,320.8 460.0,320.8 460.5,320.8 461.0,320.8 461.5,320.8 462.0,320.8 462.5,320.8 463.0,320.8 463.5,320.8 464.0,320.8 464.5,320.8 465.0,320.8 465.5,320.8 466.0,320.8 466.5,320.8 467.0,320.8 467.5,320.8 468.0,320.8 468.5,320.8 469.0,320.8 469.5,320.8 470.0,320.8 470.5,320.8 471.0,320.8 471.5,320.8 472.0,320.8 472.5,320.8 473.0,320.8 473.5,320.8 474.0,320.8 474.5,320.8 475.0,320.8 475.5,320.8 476.0,320.8 476.5,320.8 477.0,320.8 477.5,320.8 478.0,320.8 478.5,320.8 479.0,320.8 479.5,320.8 480.0,320.8 480.5,320.8 481.0,320.8 481.5,320.8 482.0,320.8 482.5,320.8 483.0,320.8 483.5,320.8 484.0,320.8 484.5,320.8 485.0,320.8 485.5,320.8 486.0,320.8 486.5,320.8 487.0,320.8 487.5,320.8 488.0,320.8 488.5,320.8 489.0,320.8 489.5,320.8 490.0,320.8 490.5,320.8 491.0,320.8 491.5,320.8 492.0,320.8 492.5,320.8 493.0,320.8 493.5,320.8 494.0,320.8 494.5,320.8 495.0,320.8 495.5,320.8 496.0,320.8 496.5,320.8 497.0,320.8 497.5,320.8 498.0,320.8 498.5,320.8 499.0,320.8 499.5,320.8 500.0,320.8 500.5,320.8 501.0,320.8 501.5,320.8 502.0,320.8 502.5,320.8 503.0,320.8 503.5,320.8 504.0,320.8 504.5,320.8 505.0,320.8 505.5,320.8 506.0,320.8 506.5,320.8 507.0,320.8 507.5,320.8 508.0,320.8 508.5,320.8 509.0,320.8 509.5,320.8 510.0,320.8 510.5,320.8 511.0,320.8 511.5,320.8 512.0,320.8 512.5,320.8 513.0,320.8 513.5,320.8 514.0,320.8 514.5,320.8 515.0,320.8 515.5,320.8 516.0,320.8 516.5,320.8 517.0,320.8 517.5,320.8 518.0,320.8 518.5,320.8 519.0,320.8 519.5,320.8 520.0,320.8 520.5,320.8 521.0,320.8 521.5,320.8 522.0,320.8 522.5,320.8 523.0,320.8 523.5,320.8 524.0,320.8 524.5,320.8 525.0,320.8 525.5,320.8 526.0,320.8 526.5,320.8 527.0,320.8 527.5,320.8 528.0,320.8 528.5,320.8 529.0,320.8 529.5,320.8 530.0,320.8 530.5,320.8 531.0,320.8 531.5,320.8" fill="none" stroke="#111" stroke-width="2" stroke-linejoin="round"/>
</g>
<g id="panel-f">
<rect x="320.8" y="368.7" width="210.9" height="140.5" fill="none" stroke="#111" stroke-width="1.0"/>
<path d="M320.70 368.20V509.20H532.20" fill="none" stroke="#111" stroke-width="1.4" stroke-linejoin="miter"/>
<path d="M341.9 509.2v-1.8M363.0 509.2v-3.5M384.1 509.2v-1.8M405.2 509.2v-3.5M426.2 509.2v-1.8M447.3 509.2v-3.5M468.4 509.2v-1.8M489.5 509.2v-3.5M510.6 509.2v-1.8M320.8 497.4h3.4M320.8 485.8h1.7M320.8 474.1h3.4M320.8 462.4h1.7M320.8 450.8h3.4M320.8 439.1h1.7M320.8 427.5h3.4M320.8 415.8h1.7M320.8 404.2h3.4M320.8 392.5h1.7M320.8 380.9h3.4" stroke="#111" stroke-width="1.1" fill="none"/>
<text class="yt" x="316.4" y="502.6">0.0</text>
<text class="yt" x="316.4" y="479.3">0.5</text>
<text class="yt" x="316.4" y="456.0">1.0</text>
<text class="yt" x="316.4" y="432.7">1.5</text>
<text class="yt" x="316.4" y="409.4">2.0</text>
<text class="yt" x="316.4" y="386.1">2.5</text>
<text class="xt" x="321.4" y="522.8" textLength="24.6" lengthAdjust="spacingAndGlyphs">1550</text>
<text class="xt" x="363.5" y="522.8" textLength="24.6" lengthAdjust="spacingAndGlyphs">1551</text>
<text class="xt" x="405.7" y="522.8" textLength="24.6" lengthAdjust="spacingAndGlyphs">1552</text>
<text class="xt" x="447.9" y="522.8" textLength="24.6" lengthAdjust="spacingAndGlyphs">1553</text>
<text class="xt" x="490.1" y="522.8" textLength="24.6" lengthAdjust="spacingAndGlyphs">1554</text>
<text class="xt" x="532.2" y="522.8" textLength="24.6" lengthAdjust="spacingAndGlyphs">1555</text>
<text class="ex" x="320.2" y="364.5"><tspan font-size="15" dy="-1.1">×</tspan><tspan dx="1.5" dy="1.1">10</tspan><tspan font-size="11.7" dx="-0.3" dy="-6.4">9</tspan></text>
<text class="lb" x="326.8" y="387.7">(f)</text>
<text class="lb" text-anchor="end" x="526.3" y="386.2">3000 gratings</text>
<text class="ay" transform="translate(286.8,434.6) rotate(-90)">Intensity (a.u.)</text>
<path d="M321.0,497.6 321.5,497.6 322.0,497.6 322.5,497.6 323.0,497.6 323.5,497.6 324.0,497.6 324.5,497.6 325.0,497.6 325.5,497.6 326.0,497.6 326.5,497.6 327.0,497.6 327.5,497.6 328.0,497.6 328.5,497.6 329.0,497.6 329.5,497.6 330.0,497.6 330.5,497.5 331.0,497.5 331.5,497.5 332.0,497.5 332.5,497.4 333.0,497.4 333.5,497.4 334.0,497.3 334.5,497.3 335.0,497.3 335.5,497.2 336.0,497.2 336.5,497.2 337.0,497.2 337.5,497.1 338.0,497.2 338.5,497.2 339.0,497.2 339.5,497.3 340.0,497.3 340.5,497.4 341.0,497.4 341.5,497.5 342.0,497.5 342.5,497.5 343.0,497.6 343.5,497.6 344.0,497.6 344.5,497.6 345.0,497.6 345.5,497.6 346.0,497.6 346.5,497.6 347.0,497.6 347.5,497.6 348.0,497.6 348.5,497.6 349.0,497.6 349.5,497.6 350.0,497.5 350.5,497.5 351.0,497.5 351.5,497.4 352.0,497.3 352.5,497.2 353.0,497.0 353.5,496.3 354.0,494.7 354.5,491.3 355.0,485.2 355.5,478.9 356.0,472.5 356.5,466.0 357.0,459.6 357.5,453.6 358.0,447.6 358.5,441.2 359.0,434.4 359.5,427.2 360.0,419.7 360.5,412.2 361.0,404.7 361.5,396.9 362.0,389.2 362.5,382.1 363.0,384.3 363.5,393.2 364.0,405.3 364.5,416.4 365.0,426.3 365.5,435.7 366.0,445.0 366.5,454.4 367.0,462.2 367.5,468.7 368.0,474.5 368.5,479.7 369.0,484.1 369.5,488.2 370.0,491.7 370.5,494.1 371.0,495.7 371.5,496.4 372.0,496.9 372.5,497.1 373.0,497.3 373.5,497.4 374.0,497.5 374.5,497.6 375.0,497.5 375.5,497.5 376.0,497.5 376.5,497.5 377.0,497.5 377.5,497.5 378.0,497.4 378.5,497.4 379.0,497.3 379.5,497.2 380.0,497.0 380.5,496.9 381.0,496.9 381.5,496.9 382.0,496.9 382.5,496.9 383.0,497.0 383.5,497.1 384.0,497.1 384.5,497.2 385.0,497.2 385.5,497.3 386.0,497.3 386.5,497.3 387.0,497.4 387.5,497.4 388.0,497.4 388.5,497.4 389.0,497.4 389.5,497.4 390.0,497.5 390.5,497.5 391.0,497.5 391.5,497.5 392.0,497.5 392.5,497.5 393.0,497.5 393.5,497.5 394.0,497.5 394.5,497.5 395.0,497.5 395.5,497.5 396.0,497.6 396.5,497.6 397.0,497.6 397.5,497.6 398.0,497.6 398.5,497.6 399.0,497.6 399.5,497.6 400.0,497.6 400.5,497.6 401.0,497.6 401.5,497.6 402.0,497.6 402.5,497.6 403.0,497.6 403.5,497.6 404.0,497.6 404.5,497.6 405.0,497.6 405.5,497.6 406.0,497.6 406.5,497.6 407.0,497.6 407.5,497.6 408.0,497.6 408.5,497.6 409.0,497.6 409.5,497.6 410.0,497.6 410.5,497.6 411.0,497.6 411.5,497.6 412.0,497.6 412.5,497.6 413.0,497.6 413.5,497.6 414.0,497.6 414.5,497.6 415.0,497.6 415.5,497.6 416.0,497.6 416.5,497.6 417.0,497.6 417.5,497.6 418.0,497.6 418.5,497.6 419.0,497.6 419.5,497.6 420.0,497.6 420.5,497.6 421.0,497.6 421.5,497.6 422.0,497.6 422.5,497.6 423.0,497.6 423.5,497.6 424.0,497.6 424.5,497.6 425.0,497.6 425.5,497.6 426.0,497.6 426.5,497.6 427.0,497.6 427.5,497.6 428.0,497.6 428.5,497.6 429.0,497.6 429.5,497.6 430.0,497.6 430.5,497.6 431.0,497.6 431.5,497.6 432.0,497.6 432.5,497.6 433.0,497.6 433.5,497.6 434.0,497.6 434.5,497.6 435.0,497.6 435.5,497.6 436.0,497.6 436.5,497.6 437.0,497.6 437.5,497.6 438.0,497.6 438.5,497.6 439.0,497.6 439.5,497.6 440.0,497.6 440.5,497.6 441.0,497.6 441.5,497.6 442.0,497.6 442.5,497.6 443.0,497.6 443.5,497.6 444.0,497.6 444.5,497.6 445.0,497.6 445.5,497.6 446.0,497.6 446.5,497.6 447.0,497.6 447.5,497.6 448.0,497.6 448.5,497.6 449.0,497.6 449.5,497.6 450.0,497.6 450.5,497.6 451.0,497.6 451.5,497.6 452.0,497.6 452.5,497.6 453.0,497.6 453.5,497.6 454.0,497.6 454.5,497.6 455.0,497.6 455.5,497.6 456.0,497.6 456.5,497.6 457.0,497.6 457.5,497.6 458.0,497.6 458.5,497.6 459.0,497.6 459.5,497.6 460.0,497.6 460.5,497.6 461.0,497.6 461.5,497.6 462.0,497.6 462.5,497.6 463.0,497.6 463.5,497.6 464.0,497.6 464.5,497.6 465.0,497.6 465.5,497.6 466.0,497.6 466.5,497.6 467.0,497.6 467.5,497.6 468.0,497.6 468.5,497.6 469.0,497.6 469.5,497.6 470.0,497.6 470.5,497.6 471.0,497.6 471.5,497.6 472.0,497.6 472.5,497.6 473.0,497.6 473.5,497.6 474.0,497.6 474.5,497.6 475.0,497.6 475.5,497.6 476.0,497.6 476.5,497.6 477.0,497.6 477.5,497.6 478.0,497.6 478.5,497.6 479.0,497.6 479.5,497.6 480.0,497.6 480.5,497.6 481.0,497.6 481.5,497.6 482.0,497.6 482.5,497.6 483.0,497.6 483.5,497.6 484.0,497.6 484.5,497.6 485.0,497.6 485.5,497.6 486.0,497.6 486.5,497.6 487.0,497.6 487.5,497.6 488.0,497.6 488.5,497.6 489.0,497.6 489.5,497.6 490.0,497.6 490.5,497.6 491.0,497.6 491.5,497.6 492.0,497.6 492.5,497.6 493.0,497.6 493.5,497.6 494.0,497.6 494.5,497.6 495.0,497.6 495.5,497.6 496.0,497.6 496.5,497.6 497.0,497.6 497.5,497.6 498.0,497.6 498.5,497.6 499.0,497.6 499.5,497.6 500.0,497.6 500.5,497.6 501.0,497.6 501.5,497.6 502.0,497.6 502.5,497.6 503.0,497.6 503.5,497.6 504.0,497.6 504.5,497.6 505.0,497.6 505.5,497.6 506.0,497.6 506.5,497.6 507.0,497.6 507.5,497.6 508.0,497.6 508.5,497.6 509.0,497.6 509.5,497.6 510.0,497.6 510.5,497.6 511.0,497.6 511.5,497.6 512.0,497.6 512.5,497.6 513.0,497.6 513.5,497.6 514.0,497.6 514.5,497.6 515.0,497.6 515.5,497.6 516.0,497.6 516.5,497.6 517.0,497.6 517.5,497.6 518.0,497.6 518.5,497.6 519.0,497.6 519.5,497.6 520.0,497.6 520.5,497.6 521.0,497.6 521.5,497.6 522.0,497.6 522.5,497.6 523.0,497.6 523.5,497.6 524.0,497.6 524.5,497.6 525.0,497.6 525.5,497.6 526.0,497.6 526.5,497.6 527.0,497.6 527.5,497.6 528.0,497.6 528.5,497.6 529.0,497.6 529.5,497.6 530.0,497.6 530.5,497.6 531.0,497.6 531.5,497.6" fill="none" stroke="#111" stroke-width="2" stroke-linejoin="round"/>
</g>
<text class="ax" x="149.8" y="543.2">Wavelength (nm)</text>
<text class="ax" x="426.5" y="543.2">Wavelength (nm)</text>
</svg></body></html>
